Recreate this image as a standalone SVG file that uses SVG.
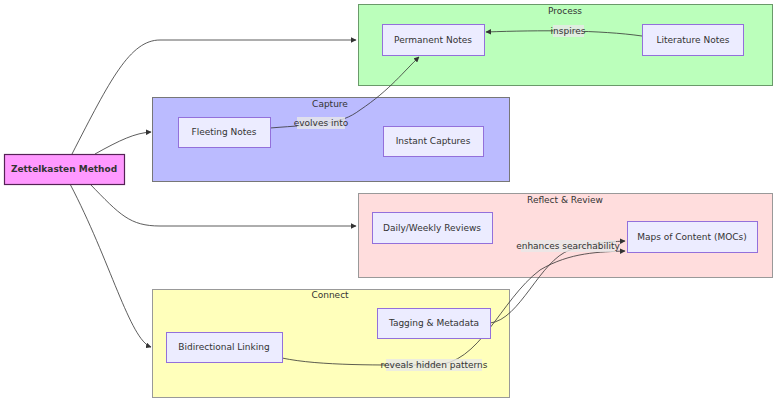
<svg xmlns="http://www.w3.org/2000/svg" width="784" height="406" viewBox="0 0 784 406">
<style>
text{font-family:"DejaVu Sans","Liberation Sans",sans-serif;font-size:9px;fill:#333;text-anchor:middle;dominant-baseline:central}
.n{fill:#ECECFF;stroke:#9370DB;stroke-width:1}
.c{fill:none;stroke:#333;stroke-width:0.8}
.lb{fill:#e8e8e8;opacity:0.8}
</style>
<defs><marker id="a" viewBox="0 0 10 10" refX="9" refY="5" markerWidth="7" markerHeight="7" orient="auto"><path d="M0,0L10,5L0,10z" fill="#333"/></marker></defs>
<g id="process"><rect x="358.5" y="4.5" width="414" height="81" fill="#bbffbb" stroke="#6a9a6a"/><text x="565" y="11">Process</text></g>
<g id="capture"><rect x="152.5" y="97.5" width="357" height="84" fill="#bbbbff" stroke="#777"/><text x="330" y="104">Capture</text></g>
<g id="reflect"><rect x="358.5" y="193.5" width="414" height="84" fill="#ffdddd" stroke="#999"/><text x="565" y="200">Reflect &amp; Review</text></g>
<g id="connect"><rect x="152.5" y="289.5" width="357" height="108" fill="#ffffbb" stroke="#999"/><text x="330" y="295">Connect</text></g>
<g id="connectors">
<path class="c" d="M72,154 C110,80 130,40 160,40 L356,40" marker-end="url(#a)"/>
<path class="c" d="M95,154 C120,140 135,133 151,132" marker-end="url(#a)"/>
<path class="c" d="M90,184 C120,215 130,226 160,226 L356,226" marker-end="url(#a)"/>
<path class="c" d="M70,184 C110,260 130,340 151,347" marker-end="url(#a)"/>
<path class="c" d="M642,36 C600,30 540,30 486,32" marker-end="url(#a)"/>
<path class="c" d="M270,128 C320,124 340,125 360,110 C390,90 405,70 419,57" marker-end="url(#a)"/>
<path class="c" d="M490,323 C520,320 540,260 570,250 C590,244 605,242 625,241" marker-end="url(#a)"/>
<path class="c" d="M282,358 C320,366 380,365 434,365 C480,365 500,300 540,270 C570,252 600,252 625,251" marker-end="url(#a)"/>
<rect class="lb" x="297" y="117" width="48" height="12"/><text x="321" y="123">evolves into</text>
<rect class="lb" x="553" y="25" width="31" height="12"/><text x="568" y="31">inspires</text>
<rect class="lb" x="521" y="240" width="95" height="12"/><text x="568" y="246">enhances searchability</text>
<rect class="lb" x="386" y="359" width="96" height="12"/><text x="434" y="365">reveals hidden patterns</text>
</g>
<g id="zettelkasten"><rect x="4.5" y="154.5" width="120" height="30" fill="#ff99ff" stroke="#552255" stroke-width="1.2"/><text x="64" y="169" style="font-weight:bold">Zettelkasten Method</text></g>
<g id="permanent"><rect class="n" x="382.5" y="24.5" width="102" height="31"/><text x="433" y="40">Permanent Notes</text></g>
<g id="literature"><rect class="n" x="642.5" y="24.5" width="101" height="31"/><text x="693" y="40">Literature Notes</text></g>
<g id="fleeting"><rect class="n" x="178.5" y="117.5" width="92" height="30"/><text x="224" y="132">Fleeting Notes</text></g>
<g id="instant"><rect class="n" x="383.5" y="126.5" width="100" height="30"/><text x="433" y="141">Instant Captures</text></g>
<g id="daily"><rect class="n" x="372.5" y="212.5" width="120" height="31"/><text x="432" y="228">Daily/Weekly Reviews</text></g>
<g id="mocs"><rect class="n" x="627.5" y="221.5" width="130" height="31"/><text x="692" y="237">Maps of Content (MOCs)</text></g>
<g id="tagging"><rect class="n" x="377.5" y="308.5" width="113" height="30"/><text x="434" y="323">Tagging &amp; Metadata</text></g>
<g id="bidirectional"><rect class="n" x="166.5" y="332.5" width="116" height="30"/><text x="224" y="347">Bidirectional Linking</text></g>
</svg>
